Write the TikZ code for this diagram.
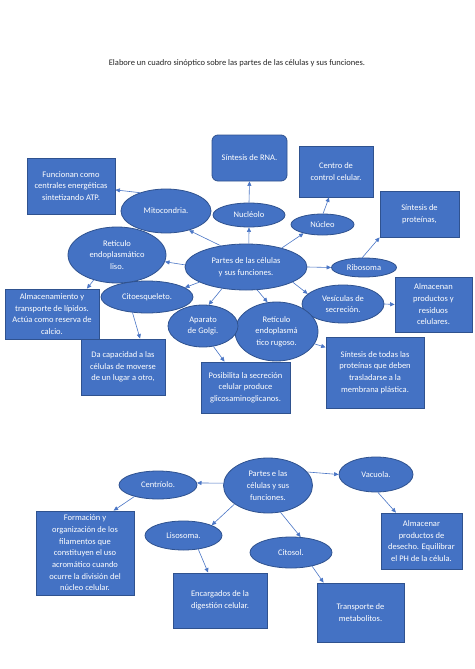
\documentclass[tikz,border=0pt]{standalone}
\usepackage{fontspec}
\setmainfont{Carlito}
\usetikzlibrary{shapes.geometric,arrows.meta}
\definecolor{fillb}{HTML}{4472C4}
\definecolor{edgeb}{HTML}{2F528F}
\definecolor{arrb}{HTML}{4A76C6}
\begin{document}
\begin{tikzpicture}[x=1pt,y=-1pt,
 base/.style={fill=fillb,draw=edgeb,line width=0.8pt,text=white,align=center,inner sep=0pt,font=\fontsize{8.5}{11.7}\selectfont},
 ell/.style={base,ellipse},
 box/.style={base,rectangle},
 conn/.style={draw=arrb,line width=0.6pt,-{Triangle[length=4.5pt,width=4pt]}}]
\useasboundingbox[fill=white] (0,0) rectangle (474,669);

\node[font=\fontsize{8.5}{10}\selectfont,text=black!85] (title) at (237,63) {Elabore un cuadro sinóptico sobre las partes de las células y sus funciones.};

% ---------- top diagram ----------
\node[ell,minimum width=122pt,minimum height=46pt] (cen) at (246,267) {Partes de las células\\y sus funciones.};
\node[ell,minimum width=90pt,minimum height=44pt] (mito) at (166,211) {Mitocondria.};
\node[box,minimum width=88pt,minimum height=56pt] (func) at (71,186) {Funcionan como\\centrales energéticas\\sintetizando ATP.};
\node[box,rounded corners=6pt,minimum width=75pt,minimum height=46pt] (rna) at (249.5,158) {Síntesis de RNA.};
\node[ell,minimum width=72pt,minimum height=24pt] (nucleolo) at (249,215) {Nucléolo};
\node[box,minimum width=74pt,minimum height=51pt] (centro) at (336,171.5) {Centro de\\control celular.};
\node[ell,minimum width=63pt,minimum height=21pt] (nucleo) at (322.5,224.5) {Núcleo};
\node[box,minimum width=79pt,minimum height=46pt] (prot) at (419.5,214) {Síntesis de\\proteínas,};
\node[ell,minimum width=65pt,minimum height=19pt] (ribo) at (364,267.5) {Ribosoma};
\node[ell,minimum width=82pt,minimum height=38pt] (vesic) at (343,304) {Vesículas de\\secreción.};
\node[box,minimum width=77pt,minimum height=55pt] (almacenan) at (433.5,304.5) {Almacenan\\productos y\\residuos\\celulares.};
\node[ell,minimum width=83pt,minimum height=59pt] (rugoso) at (276.5,331.5) {Retículo\\endoplasmá\\tico rugoso.};
\node[box,minimum width=98pt,minimum height=71pt] (sintodas) at (375,372.5) {Síntesis de todas las\\proteínas que deben\\trasladarse a la\\membrana plástica.};
\node[ell,minimum width=70pt,minimum height=42pt] (golgi) at (203,326) {Aparato\\de Golgi.};
\node[box,minimum width=89pt,minimum height=51pt] (posib) at (245.5,387.5) {Posibilita la secreción\\celular produce\\glicosaminoglicanos.};
\node[ell,minimum width=92pt,minimum height=32pt] (citoesq) at (147,297) {Citoesqueleto.};
\node[box,minimum width=84pt,minimum height=56pt] (dacap) at (123,367) {Da capacidad a las\\células de moverse\\de un lugar a otro,};
\node[ell,minimum width=98pt,minimum height=56pt] (liso) at (117,255) {Retículo\\endoplasmático\\liso.};
\node[box,minimum width=94pt,minimum height=50pt] (almac) at (52,314) {Almacenamiento y\\transporte de lípidos.\\Actúa como reserva de\\calcio.};

\draw[conn] (cen.140) -- (mito.320);
\draw[conn] (mito.145) -- (func.355);
\draw[conn] (cen.83) -- (nucleolo.south);
\draw[conn] (nucleolo.north) -- (rna.south);
\draw[conn] (cen.28) -- (nucleo.205);
\draw[conn] (nucleo.87) -- (centro.255);
\draw[conn] (cen.east) -- (ribo.west);
\draw[conn] (ribo.100) -- (prot.south west);
\draw[conn] (cen.342) -- (vesic.164);
\draw[conn] (vesic.east) -- (almacenan.west);
\draw[conn] (cen.296) -- (rugoso.107);
\draw[conn] (rugoso.342) -- (sintodas.153);
\draw[conn] (cen.222) -- (golgi.75);
\draw[conn] (golgi.297) -- (posib.129);
\draw[conn] (cen.198) -- (citoesq.14);
\draw[conn] (citoesq.227) -- (dacap.59);
\draw[conn] (cen.178) -- (liso.352);
\draw[conn] (liso.227) -- (almac.36);

% ---------- bottom diagram ----------
\node[ell,minimum width=89pt,minimum height=55pt] (cen2) at (268,485.5) {Partes e las\\células y sus\\funciones.};
\node[ell,minimum width=78pt,minimum height=28pt] (centriolo) at (158,485) {Centríolo.};
\node[box,minimum width=98pt,minimum height=84pt] (formacion) at (85,553) {Formación y\\organización de los\\filamentos que\\constituyen el uso\\acromático cuando\\ocurre la división del\\núcleo celular.};
\node[ell,minimum width=77pt,minimum height=29pt] (lisosoma) at (183.5,535.5) {Lisosoma.};
\node[box,minimum width=94pt,minimum height=55pt] (encarg) at (220,600.5) {Encargados de la\\digestión celular.};
\node[ell,minimum width=74pt,minimum height=35pt] (vacuola) at (376,474.5) {Vacuola.};
\node[box,minimum width=81pt,minimum height=56pt] (almacenar) at (421.5,541) {Almacenar\\productos de\\desecho. Equilibrar\\el PH de la célula.};
\node[ell,minimum width=82pt,minimum height=31pt] (citosol) at (291,552.5) {Citosol.};
\node[box,minimum width=87pt,minimum height=59pt] (transporte) at (360.5,612.5) {Transporte de\\metabolitos.};

\draw[conn] (cen2.177) -- (centriolo.3);
\draw[conn] (centriolo.206) -- (formacion.56);
\draw[conn] (cen2.209) -- (lisosoma.20);
\draw[conn] (lisosoma.317) -- (encarg.113);
\draw[conn] (cen2.19) -- (vacuola.west);
\draw[conn] (vacuola.276) -- (almacenar.132);
\draw[conn] (cen2.295) -- (citosol.58);
\draw[conn] (citosol.327) -- (transporte.141);
\end{tikzpicture}
\end{document}
